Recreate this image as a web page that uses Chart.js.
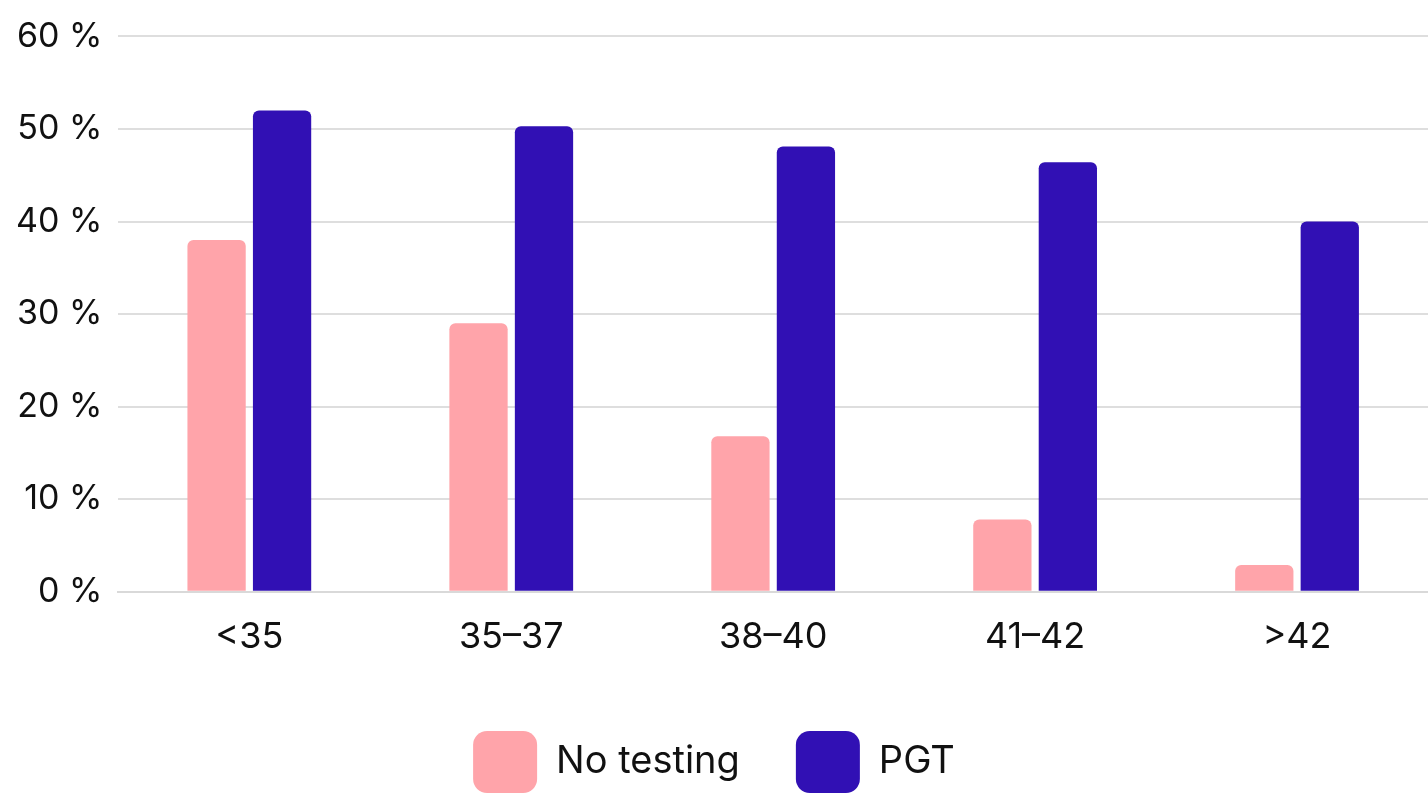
<!DOCTYPE html>
<html lang="en">
<head>
    <meta charset="UTF-8">
    <title>Success rate by age</title>
    <script src="https://cdn.jsdelivr.net/npm/chart.js"></script>
    <style>
        body { margin: 0; background: #fff; }
        #wrap { width: 1428px; height: 803px; }
    </style>
</head>
<body>
    <div id="wrap"><canvas id="ageChart"></canvas></div>

    <script>
        const categories = ["<35", "35–37", "38–40", "41–42", ">42"];
        const noTesting = [38, 29, 16.8, 7.8, 2.9];
        const pgt = [52, 50.3, 48.1, 46.4, 40];
        const yTicks = [0, 10, 20, 30, 40, 50, 60];

        const ctx = document.getElementById("ageChart").getContext("2d");
        new Chart(ctx, {
            type: "bar",
            data: {
                labels: categories,
                datasets: [
                    { label: "No testing", data: noTesting, backgroundColor: "#ffa4aa", borderRadius: 6, borderSkipped: "bottom" },
                    { label: "PGT", data: pgt, backgroundColor: "#3110b4", borderRadius: 6, borderSkipped: "bottom" }
                ]
            },
            options: {
                responsive: true,
                maintainAspectRatio: false,
                animation: false,
                categoryPercentage: 0.5,
                barPercentage: 0.89,
                layout: { padding: { top: 17, right: 0, bottom: 0, left: 0 } },
                plugins: {
                    tooltip: { enabled: false },
                    legend: {
                        position: "bottom",
                        labels: {
                            color: "#111",
                            font: { family: "Inter", size: 38 },
                            boxWidth: 64,
                            boxHeight: 62,
                            useBorderRadius: true,
                            borderRadius: 14,
                            padding: 56
                        }
                    }
                },
                scales: {
                    x: {
                        grid: { display: false },
                        border: { color: "#d9d9d9", width: 2 },
                        ticks: { color: "#111", font: { family: "Inter", size: 36 }, padding: 16 }
                    },
                    y: {
                        min: 0, max: 60,
                        afterBuildTicks: axis => { axis.ticks = yTicks.map(v => ({ value: v })); },
                        grid: { color: "#dedede", lineWidth: 2, drawTicks: false },
                        border: { display: false },
                        ticks: {
                            color: "#111",
                            font: { family: "Inter", size: 34 },
                            padding: 16,
                            callback: v => v + " %"
                        }
                    }
                }
            }
        });
    </script>
</body>
</html>
